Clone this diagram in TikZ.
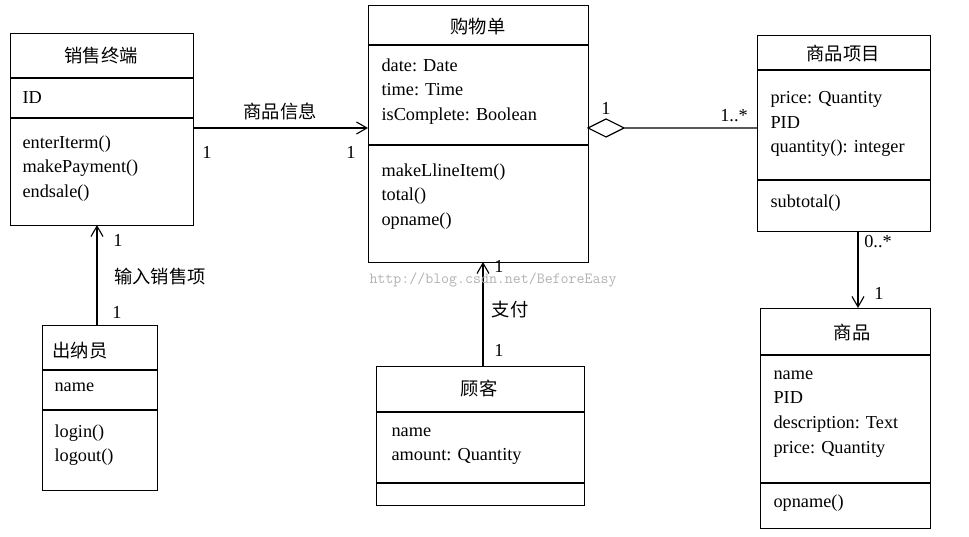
\documentclass[tikz,border=0pt]{standalone}
\usepackage{fontspec}
\setmainfont{Liberation Serif}
\newfontfamily\cjk{Noto Sans CJK SC}
\usetikzlibrary{arrows.meta}

\begin{document}
\begin{tikzpicture}[x=0.025cm,y=-0.025cm,thick,>={Straight Barb[length=2.6mm,width=3mm]},
	cls/.style 2 args={draw,anchor=north west,minimum width=#1*0.025cm,minimum height=#2*0.025cm,inner sep=0},
	title/.style={font=\cjk\fontsize{13}{14}\selectfont},
	body/.style={anchor=north west,align=left,inner sep=0,font=\fontsize{13}{17.5}\selectfont},
	lbl/.style={font=\fontsize{13}{14}\selectfont,inner sep=0},
	clbl/.style={font=\cjk\fontsize{13}{14}\selectfont,inner sep=0}]
	\useasboundingbox (0,0) rectangle (969,537);
	
	% classes
	\node[cls={183}{192}] (pos) at (10,33) {};
	\draw (10,78) -- (193,78) (10,118) -- (193,118);
	\node[title] at (101,56) {销售终端};
	\node[body] at (22,91) {ID};
	\node[body] at (22,135) {enterIterm()\\makePayment()\\endsale()};
	
	\node[cls={220}{257}] (order) at (368,5) {};
	\draw (368,45) -- (588,45) (368,145) -- (588,145);
	\node[title] at (478,27) {购物单};
	\node[body] at (381,58) {date: Date\\time: Time\\isComplete: Boolean};
	\node[body] at (381,163) {makeLlineItem()\\total()\\opname()};
	
	\node[cls={173}{196}] (item) at (757,35) {};
	\draw (757,70) -- (930,70) (757,180) -- (930,180);
	\node[title] at (843,54) {商品项目};
	\node[body] at (770,91) {price: Quantity\\PID\\quantity(): integer};
	\node[body] at (770,194) {subtotal()};
	
	\node[cls={115}{165}] (cashier) at (42,325) {};
	\draw (42,370) -- (157,370) (42,410) -- (157,410);
	\node[title] at (80,351) {出纳员};
	\node[body] at (54,382) {name};
	\node[body] at (54,424) {login()\\logout()};
	
	\node[cls={208}{139}] (customer) at (376,366) {};
	\draw (376,412) -- (584,412) (376,483) -- (584,483);
	\node[title] at (479,388) {顾客};
	\node[body] at (391,427) {name\\amount: Quantity};
	
	\node[cls={170}{220}] (goods) at (760,308) {};
	\draw (760,355) -- (930,355) (760,483) -- (930,483);
	\node[title] at (852,333) {商品};
	\node[body] at (773,370) {name\\PID\\description: Text\\price: Quantity};
	\node[body] at (773,494) {opname()};
	
	% connectors
	\coordinate (pq) at (193,128);
	\coordinate (oq) at (368,128);
	\draw[->] (pq) -- (oq);
	\node[clbl] at (280,111) {商品信息};
	\node[lbl] at (207,152) {1};
	\node[lbl] at (351,152) {1};
	
	\coordinate (cu) at (97,325);
	\coordinate (pd) at (97,225);
	\draw[->] (cu) -- (pd);
	\node[lbl] at (118,240) {1};
	\node[clbl] at (160,277) {输入销售项};
	\node[lbl] at (117,312) {1};
	
	\coordinate (ku) at (483,366);
	\coordinate (od) at (483,262);
	\draw[->] (ku) -- (od);
	\node[lbl] at (499,266) {1};
	\node[clbl] at (510,310) {支付};
	\node[lbl] at (499,350) {1};
	
	\coordinate (il) at (757,128);
	\coordinate (or) at (588,128);
	\draw (il) -- (624,128) -- (606,137) -- (or) -- (606,119) -- (624,128);
	\node[lbl] at (606,108) {1};
	\node[lbl] at (734,116) {1..*};
	
	\coordinate (id) at (858,231);
	\coordinate (gu) at (858,308);
	\draw[->] (id) -- (gu);
	\node[lbl] at (878,242) {0..*};
	\node[lbl] at (879,293) {1};
	
	\node[lbl,font=\ttfamily\fontsize{11}{12}\selectfont,text=black!30] at (493,280) {http://blog.csdn.net/BeforeEasy};
\end{tikzpicture}
\end{document}
